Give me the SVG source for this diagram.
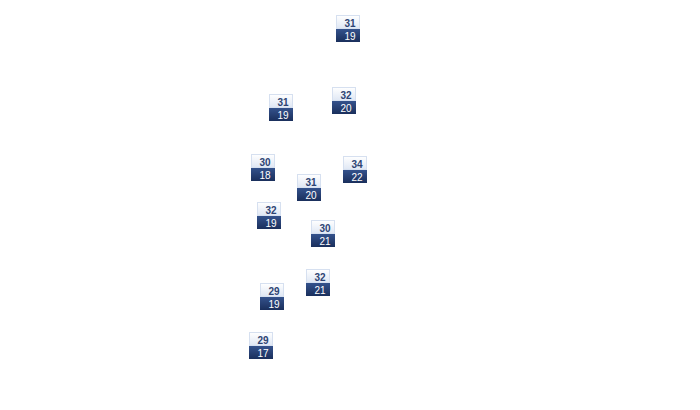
<svg xmlns="http://www.w3.org/2000/svg" width="700" height="410" viewBox="0 0 700 410">
<defs>
<linearGradient id="gTop" x1="0" y1="0" x2="0" y2="1"><stop offset="0" stop-color="#ffffff"/><stop offset="1" stop-color="#dfe7f4"/></linearGradient>
<linearGradient id="gBot" x1="0" y1="0" x2="0" y2="1"><stop offset="0" stop-color="#34528c"/><stop offset="1" stop-color="#1a2f5c"/></linearGradient>
<style>
.t{fill:url(#gTop);stroke:#d6e0f0;stroke-width:1}
.b{fill:url(#gBot)}
.hi{font-family:"Liberation Sans",Arial,sans-serif;font-size:10px;font-weight:bold;fill:#2e4473;text-anchor:end}
.lo{font-family:"Liberation Sans",Arial,sans-serif;font-size:10px;fill:#ffffff;text-anchor:end}
</style>
</defs>
<rect width="700" height="410" fill="#ffffff"/>
<g id="connectors"/>
<g id="n1" transform="translate(336,15)"><rect class="t" x="0.5" y="0.5" width="23" height="13"/><rect class="b" x="0" y="14" width="24" height="13"/><text class="hi" x="19.5" y="11.5">31</text><text class="lo" x="19.5" y="24.5">19</text></g>
<g id="n2" transform="translate(332,87)"><rect class="t" x="0.5" y="0.5" width="23" height="13"/><rect class="b" x="0" y="14" width="24" height="13"/><text class="hi" x="19.5" y="11.5">32</text><text class="lo" x="19.5" y="24.5">20</text></g>
<g id="n3" transform="translate(269,94)"><rect class="t" x="0.5" y="0.5" width="23" height="13"/><rect class="b" x="0" y="14" width="24" height="13"/><text class="hi" x="19.5" y="11.5">31</text><text class="lo" x="19.5" y="24.5">19</text></g>
<g id="n4" transform="translate(251,154)"><rect class="t" x="0.5" y="0.5" width="23" height="13"/><rect class="b" x="0" y="14" width="24" height="13"/><text class="hi" x="19.5" y="11.5">30</text><text class="lo" x="19.5" y="24.5">18</text></g>
<g id="n5" transform="translate(343,156)"><rect class="t" x="0.5" y="0.5" width="23" height="13"/><rect class="b" x="0" y="14" width="24" height="13"/><text class="hi" x="19.5" y="11.5">34</text><text class="lo" x="19.5" y="24.5">22</text></g>
<g id="n6" transform="translate(297,174)"><rect class="t" x="0.5" y="0.5" width="23" height="13"/><rect class="b" x="0" y="14" width="24" height="13"/><text class="hi" x="19.5" y="11.5">31</text><text class="lo" x="19.5" y="24.5">20</text></g>
<g id="n7" transform="translate(257,202)"><rect class="t" x="0.5" y="0.5" width="23" height="13"/><rect class="b" x="0" y="14" width="24" height="13"/><text class="hi" x="19.5" y="11.5">32</text><text class="lo" x="19.5" y="24.5">19</text></g>
<g id="n8" transform="translate(311,220)"><rect class="t" x="0.5" y="0.5" width="23" height="13"/><rect class="b" x="0" y="14" width="24" height="13"/><text class="hi" x="19.5" y="11.5">30</text><text class="lo" x="19.5" y="24.5">21</text></g>
<g id="n9" transform="translate(306,269)"><rect class="t" x="0.5" y="0.5" width="23" height="13"/><rect class="b" x="0" y="14" width="24" height="13"/><text class="hi" x="19.5" y="11.5">32</text><text class="lo" x="19.5" y="24.5">21</text></g>
<g id="n10" transform="translate(260,283)"><rect class="t" x="0.5" y="0.5" width="23" height="13"/><rect class="b" x="0" y="14" width="24" height="13"/><text class="hi" x="19.5" y="11.5">29</text><text class="lo" x="19.5" y="24.5">19</text></g>
<g id="n11" transform="translate(249,332)"><rect class="t" x="0.5" y="0.5" width="23" height="13"/><rect class="b" x="0" y="14" width="24" height="13"/><text class="hi" x="19.5" y="11.5">29</text><text class="lo" x="19.5" y="24.5">17</text></g>
</svg>
